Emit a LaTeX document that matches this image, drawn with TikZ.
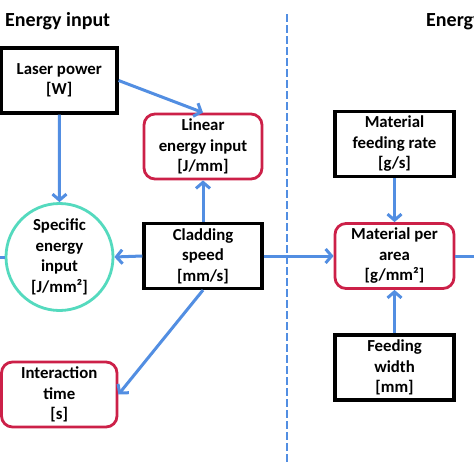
\documentclass[tikz,border=0pt]{standalone}
\usepackage{fontspec}
\setmainfont{Carlito}
\usetikzlibrary{arrows.meta}
\definecolor{flowblue}{RGB}{82,142,226}
\definecolor{boxred}{RGB}{204,32,72}
\definecolor{circteal}{RGB}{84,218,190}
\tikzset{
  lbl/.style={font=\bfseries\fontsize{16.8}{20.5}\selectfont, align=center, inner sep=0pt},
  blackbox/.style={lbl, draw=black, line width=3.2pt, minimum width=#1, minimum height=65pt},
  redbox/.style={lbl, draw=boxred, line width=2.8pt, rounded corners=11pt, minimum width=#1, minimum height=65pt},
  flow/.style={draw=flowblue, line width=3pt, -{Straight Barb[length=6pt,width=14pt,line width=3pt]}},
  flowline/.style={draw=flowblue, line width=3pt},
  title/.style={font=\bfseries\fontsize{20}{24}\selectfont, inner sep=0pt, anchor=base west}
}
\begin{document}
\begin{tikzpicture}[x=1pt,y=-1pt]
\useasboundingbox (0,0) rectangle (474,474);
\clip (0,0) rectangle (474,474);
\fill[white] (0,0) rectangle (474,474);
% titles
\node[title] (t1) at (5,26) {Energy input};
\node[title] (t2) at (426,26) {Energy input};
% dashed separator
\coordinate (dtop) at (287,14);
\coordinate (dbot) at (287,464);
\draw[flowblue, line width=2.8pt, dash pattern=on 8pt off 3pt] (dtop) -- (dbot);
% nodes
\node[blackbox=115.5pt] (laser) at (59.25,80.5) {Laser power\\{[W]}};
\node[redbox=118pt] (linear) at (203,146.5) {Linear\\energy input\\{[J/mm]}};
\node[blackbox=118pt] (clad) at (203,256) {Cladding\\speed\\{[mm/s]}};
\node[lbl, circle, draw=circteal, line width=2.8pt, minimum size=107pt] (spec) at (59.5,257) {Specific\\energy\\input\\{[J/mm²]}};
\node[redbox=115.5pt] (inter) at (59.25,394.5) {Interaction\\time\\{[s]}};
\node[blackbox=119pt] (feed) at (394.5,144) {Material\\feeding rate\\{[g/s]}};
\node[redbox=119pt] (mpa) at (394.5,256) {Material per\\area\\{[g/mm²]}};
\node[blackbox=119pt] (fwidth) at (394.5,367.5) {Feeding\\width\\{[mm]}};
\coordinate (leftin) at (0,257);
\coordinate (rightout) at (474,256);
% connectors
\draw[flow] (laser.south) -- (spec.north);
\draw[flow] (laser.east) -- (linear.north);
\draw[flow] (clad.north) -- (linear.south);
\draw[flow] (clad.west) -- (spec.east);
\draw[flow] (clad.south) -- (inter.east);
\draw[flow] (clad.east) -- (mpa.west);
\draw[flow] (feed.south) -- (mpa.north);
\draw[flow] (fwidth.north) -- (mpa.south);
\draw[flowline] (mpa.east) -- (rightout);
\draw[flowline] (leftin) -- (spec.west);
\end{tikzpicture}
\end{document}
